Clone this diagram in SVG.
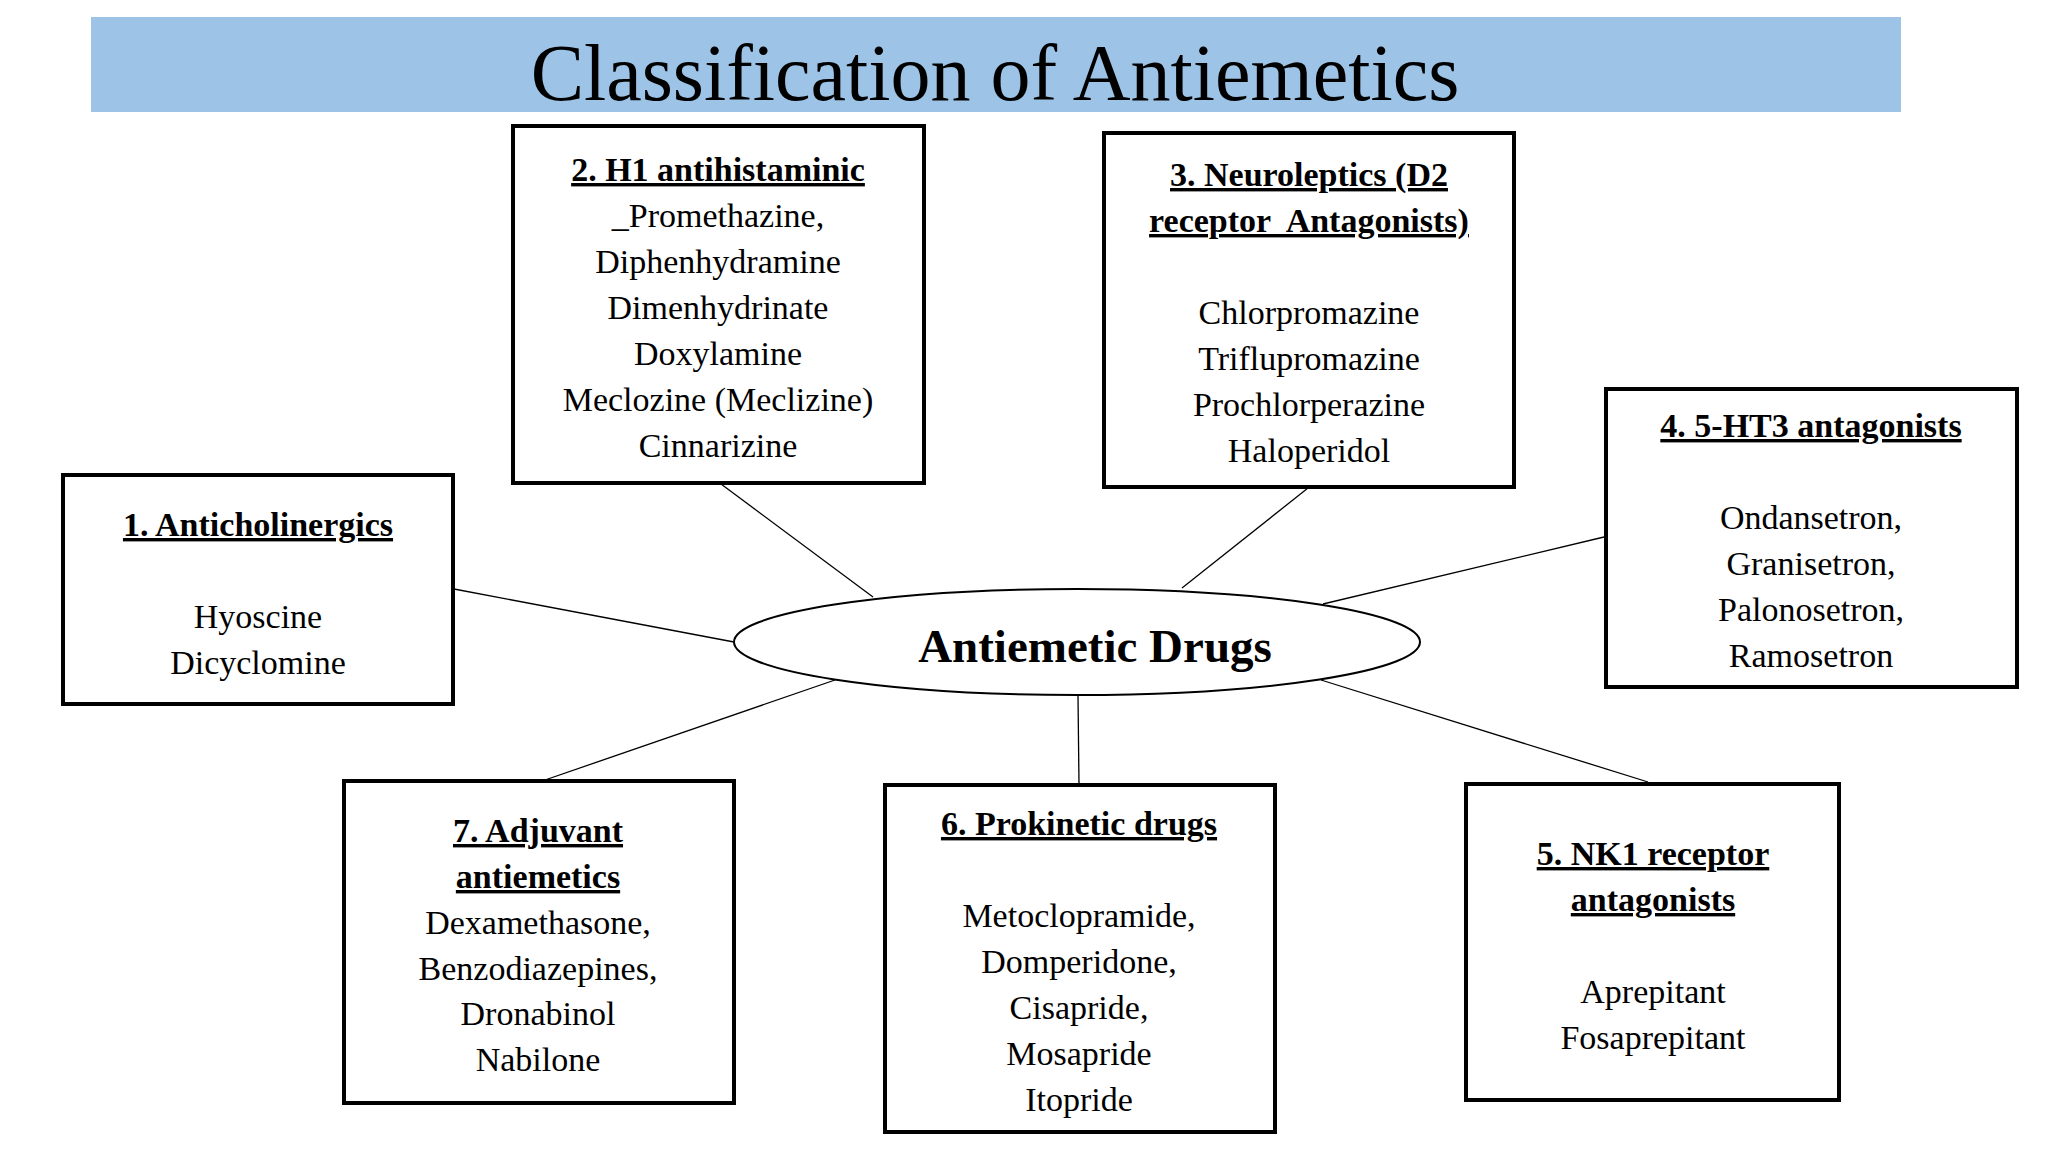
<svg xmlns="http://www.w3.org/2000/svg" width="2048" height="1152" viewBox="0 0 2048 1152">
<style>
.box{fill:#fff;stroke:#000;stroke-width:4}
text{font-family:"Liberation Serif","Times New Roman",serif;font-size:34px;text-anchor:middle;fill:#000}
.h{font-weight:bold;text-decoration:underline}
.c line{stroke:#000;stroke-width:1.3}
</style>
<rect width="2048" height="1152" fill="#fff"/>
<g id="title"><rect x="91" y="17" width="1810" height="95" fill="#9dc3e6"/>
<text x="995" y="100" style="font-size:80px">Classification of Antiemetics</text></g>
<g class="c" id="connectors">
<line x1="454" y1="589" x2="734" y2="642"/>
<line x1="721" y1="484" x2="873" y2="597"/>
<line x1="1308" y1="488" x2="1182" y2="588"/>
<line x1="1604" y1="537" x2="1323" y2="604"/>
<line x1="1321" y1="680" x2="1648" y2="782"/>
<line x1="1078" y1="696" x2="1079" y2="784"/>
<line x1="835" y1="680" x2="545" y2="780"/>
</g>
<g id="center"><ellipse cx="1077" cy="642" rx="343" ry="53" fill="#fff" stroke="#000" stroke-width="2"/>
<text x="1095" y="662" style="font-size:47px;font-weight:bold">Antiemetic Drugs</text></g>
<g id="n1"><rect class="box" x="63" y="475" width="390" height="229"/>
<text class="h" x="258" y="536">1. Anticholinergics</text>
<text x="258" y="628">Hyoscine</text><text x="258" y="674">Dicyclomine</text></g>
<g id="n2"><rect class="box" x="513" y="126" width="411" height="357"/>
<text class="h" x="718" y="181">2. H1 antihistaminic</text>
<text x="718" y="227">_Promethazine,</text><text x="718" y="273">Diphenhydramine</text>
<text x="718" y="319">Dimenhydrinate</text><text x="718" y="365">Doxylamine</text>
<text x="718" y="411">Meclozine (Meclizine)</text><text x="718" y="457">Cinnarizine</text></g>
<g id="n3"><rect class="box" x="1104" y="133" width="410" height="354"/>
<text class="h" x="1309" y="186">3. Neuroleptics (D2</text>
<text class="h" x="1309" y="232" xml:space="preserve">receptor  Antagonists)</text>
<text x="1309" y="324">Chlorpromazine</text><text x="1309" y="370">Triflupromazine</text>
<text x="1309" y="416">Prochlorperazine</text><text x="1309" y="462">Haloperidol</text></g>
<g id="n4"><rect class="box" x="1606" y="389" width="411" height="298"/>
<text class="h" x="1811" y="437">4. 5-HT3 antagonists</text>
<text x="1811" y="529">Ondansetron,</text><text x="1811" y="575">Granisetron,</text>
<text x="1811" y="621">Palonosetron,</text><text x="1811" y="667">Ramosetron</text></g>
<g id="n5"><rect class="box" x="1466" y="784" width="373" height="316"/>
<text class="h" x="1653" y="865">5. NK1 receptor</text><text class="h" x="1653" y="911">antagonists</text>
<text x="1653" y="1003">Aprepitant</text><text x="1653" y="1049">Fosaprepitant</text></g>
<g id="n6"><rect class="box" x="885" y="785" width="390" height="347"/>
<text class="h" x="1079" y="835">6. Prokinetic drugs</text>
<text x="1079" y="927">Metoclopramide,</text><text x="1079" y="973">Domperidone,</text>
<text x="1079" y="1019">Cisapride,</text><text x="1079" y="1065">Mosapride</text><text x="1079" y="1111">Itopride</text></g>
<g id="n7"><rect class="box" x="344" y="781" width="390" height="322"/>
<text class="h" x="538" y="842">7. Adjuvant</text><text class="h" x="538" y="888">antiemetics</text>
<text x="538" y="934">Dexamethasone,</text><text x="538" y="980">Benzodiazepines,</text>
<text x="538" y="1025">Dronabinol</text><text x="538" y="1071">Nabilone</text></g>
</svg>
